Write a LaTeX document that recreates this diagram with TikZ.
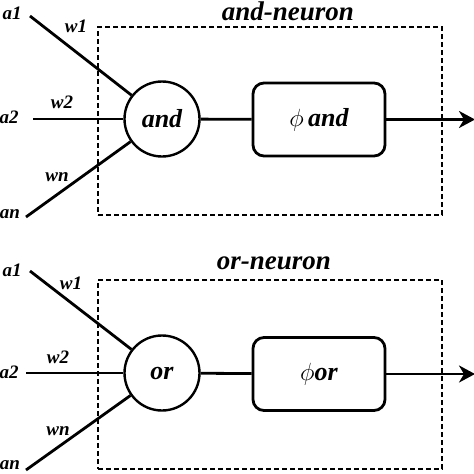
\documentclass[tikz,border=0pt]{standalone}
\usepackage{fontspec}
\setmainfont{Liberation Serif}
\usetikzlibrary{arrows.meta}
\begin{document}
\begin{tikzpicture}[x=1pt,y=-1pt,
  neuronbox/.style={draw, line width=2.4pt, dash pattern=on 5pt off 3pt, inner sep=0pt},
  circ/.style={circle, draw, line width=2.4pt, minimum size=75pt, inner sep=0pt, font=\fontsize{26}{26}\selectfont\bfseries\itshape},
  actbox/.style={draw, rounded corners=11pt, line width=2.8pt, minimum width=132pt, minimum height=73pt, inner sep=0pt, font=\fontsize{26}{26}\selectfont\bfseries\itshape},
  wire/.style={line width=2.8pt},
  outwire/.style={line width=2.8pt, -{Stealth[length=16pt,width=17pt,inset=5pt]}},
  ttl/.style={font=\fontsize{27}{27}\selectfont\bfseries\itshape, inner sep=0pt},
  albl/.style={font=\fontsize{19}{19}\selectfont\bfseries\itshape, inner sep=0pt},
  wlbl/.style={font=\fontsize{19}{19}\selectfont\bfseries\itshape, inner sep=0pt}
]
\useasboundingbox (0,0) rectangle (474,474);
\fill[white] (0,0) rectangle (474,474);

% ---------- and-neuron ----------
\node[neuronbox, minimum width=344pt, minimum height=188pt] (andbox) at (270,121) {};
\node[ttl] (andttl) at (288,11) {and-neuron};
\node[circ] (andc) at (162,119) {and};
\node[actbox] (andf) at (319,119.5) {$\phi$\,and};
\coordinate (andin1) at (30,16);
\coordinate (andin2) at (33,119);
\coordinate (andin3) at (26,217);
\coordinate (andout) at (475,119.5);
\node[albl] (anda1) at (12,13) {a1};
\node[albl] (anda2) at (9,117) {a2};
\node[albl] (andan) at (10,214) {an};
\node[wlbl] (andw1) at (76,26) {w1};
\node[wlbl] (andw2) at (62,102) {w2};
\node[wlbl] (andwn) at (57,177) {wn};
\draw[wire] (andin1) -- (andc);
\draw[wire] (andin2) -- (andc);
\draw[wire] (andin3) -- (andc);
\draw[wire] (andc) -- (andf);
\draw[outwire] (andf) -- (andout);

% ---------- or-neuron ----------
\node[neuronbox, minimum width=344pt, minimum height=189pt] (orbox) at (270,374.5) {};
\node[ttl] (orttl) at (274,263) {or-neuron};
\node[circ] (orc) at (162,373) {or};
\node[actbox] (orf) at (319,374) {$\phi$or};
\coordinate (orin1) at (30,271);
\coordinate (orin2) at (26,373);
\coordinate (orin3) at (26,470);
\coordinate (orout) at (475,374);
\node[albl] (ora1) at (12,270) {a1};
\node[albl] (ora2) at (9,372) {a2};
\node[albl] (oran) at (10,465) {an};
\node[wlbl] (orw1) at (71,283) {w1};
\node[wlbl] (orw2) at (58,357) {w2};
\node[wlbl] (orwn) at (58,431) {wn};
\draw[wire] (orin1) -- (orc);
\draw[wire] (orin2) -- (orc);
\draw[wire] (orin3) -- (orc);
\draw[wire] (orc) -- (orf);
\draw[outwire] (orf) -- (orout);
\end{tikzpicture}
\end{document}
